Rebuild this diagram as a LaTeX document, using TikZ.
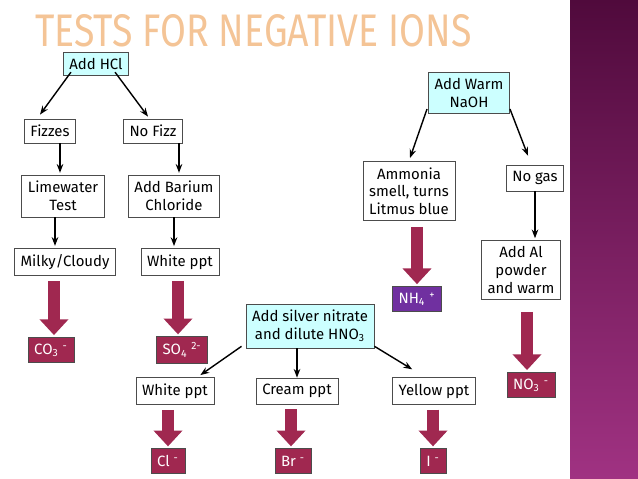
\documentclass[tikz,border=0pt]{standalone}
\usepackage{fontspec}
\setmainfont{Fira Sans}
\usetikzlibrary{arrows.meta,calc}
\definecolor{cyanbox}{RGB}{204,255,255}
\definecolor{ionred}{RGB}{160,40,80}
\definecolor{nhpurple}{RGB}{112,48,160}
\definecolor{bandtop}{RGB}{80,10,60}
\definecolor{bandbot}{RGB}{160,50,130}
\definecolor{titleA}{RGB}{244,196,150}
\tikzset{
  box/.style={draw=black!70,fill=white,align=center,inner sep=3.5pt,font=\fontsize{8.5}{10}\selectfont},
  reagent/.style={box,fill=cyanbox},
  ion/.style={box,fill=ionred,text=white,minimum height=14pt},
  arr/.style={-{Stealth[length=5pt]},thick},
  blk/.style={ionred,line width=7pt,-{Triangle[width=16pt,length=9pt]}}
}
\begin{document}
\begin{tikzpicture}[x=0.02cm,y=-0.02cm]
	\useasboundingbox (0,0) rectangle (638,478);
	\shade[top color=bandtop,bottom color=bandbot] (570,0) rectangle (638,478);
	\node[anchor=west,text=titleA,font=\fontsize{26}{28}\selectfont,xscale=0.82] (title) at (30,31) {TESTS FOR NEGATIVE IONS};
	% carbonate and sulfate
	\node[reagent] (A) at (96,64) {Add HCl};
	\node[box] (B) at (50,131) {Fizzes};
	\node[box] (C) at (153,131) {No Fizz};
	\node[box] (D) at (63,196) {Limewater\\Test};
	\node[box] (E) at (174,196) {Add Barium\\Chloride};
	\node[box] (F) at (65,262) {Milky/Cloudy};
	\node[box] (G) at (180,262) {White ppt};
	\node[ion] (H) at (51,350) {CO\textsubscript{3} \textsuperscript{-}};
	\node[ion] (I) at (182,350) {SO\textsubscript{4} \textsuperscript{2-}};
	% halides
	\node[reagent] (J) at (310,326) {Add silver nitrate\\and dilute HNO\textsubscript{3}};
	\node[box] (K) at (175,391) {White ppt};
	\node[box] (L) at (297,391) {Cream ppt};
	\node[box] (M) at (434,391) {Yellow ppt};
	\node[ion] (N) at (168,461) {Cl \textsuperscript{-}};
	\node[ion] (O) at (293,461) {Br \textsuperscript{-}};
	\node[ion] (P) at (433,461) {I \textsuperscript{-}};
	% ammonium and nitrate
	\node[reagent] (Q) at (469,93) {Add Warm\\NaOH};
	\node[box] (R) at (409,191) {Ammonia\\smell, turns\\Litmus blue};
	\node[box] (S) at (535,178) {No gas};
	\node[box] (T) at (521,270) {Add Al\\powder\\and warm};
	\node[ion,fill=nhpurple] (U) at (417,299) {NH\textsubscript{4} \textsuperscript{+}};
	\node[ion] (V) at (531,385) {NO\textsubscript{3} \textsuperscript{-}};
	\draw[arr] ($(A.south west)+(8,-4)$) -- ($(B.north)+(-10,-4)$);
	\draw[arr] ($(A.south east)+(-14,-4)$) -- ($(C.north)+(-5,-2)$);
	\draw[arr] ($(B.south)+(10,0)$) -- ($(B.south |- D.north)+(10,-2)$);
	\draw[arr] ($(C.south)+(26,0)$) -- ($(C.south |- E.north)+(26,-2)$);
	\draw[arr] ($(D.south)+(-8,0)$) -- ($(D.south |- F.north)+(-8,-2)$);
	\draw[arr] (E.south) -- ($(E.south |- G.north)+(0,-2)$);
	\draw[arr] ($(Q.south west)+(-1,-5)$) -- ($(R.north)+(1,-3)$);
	\draw[arr] ($(Q.south east)+(0,-5)$) -- ($(S.north)+(-7,-9)$);
	\draw[arr] (S.south) -- ($(S.south |- T.north)+(0,-2)$);
	\draw[arr] ($(J.south west)+(-4,-2)$) -- ($(K.north east)+(-14,-2)$);
	\draw[arr] (J.south -| L.north) -- (L.north);
	\draw[arr] ($(J.south east)+(0,-2)$) -- ($(M.north west)+(20,-8)$);
	\draw[blk] ($(H.north |- F.south)+(3,5)$) -- ($(H.north)+(3,-2)$);
	\draw[blk] ($(I.north |- G.south)+(-4,5)$) -- ($(I.north)+(-4,-2)$);
	\draw[blk] ($(U.north |- R.south)+(0,6)$) -- ($(U.north)+(0,-2)$);
	\draw[blk] ($(V.north |- T.south)+(-4,12)$) -- ($(V.north)+(-4,-2)$);
	\draw[blk] ($(N.north |- K.south)+(0,5)$) -- ($(N.north)+(0,-2)$);
	\draw[blk] ($(O.north |- L.south)+(-2,5)$) -- ($(O.north)+(-2,-2)$);
	\draw[blk] ($(P.north |- M.south)+(0,5)$) -- ($(P.north)+(0,-2)$);
\end{tikzpicture}
\end{document}
